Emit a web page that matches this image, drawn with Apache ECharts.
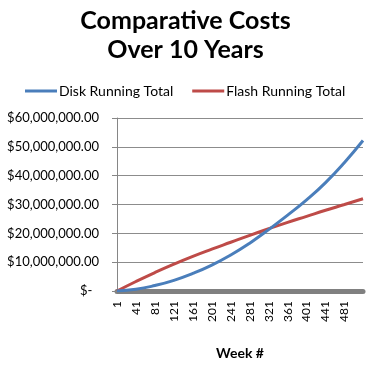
<!DOCTYPE html>
<html>
<head>
<meta charset="utf-8">
<script src="https://cdn.jsdelivr.net/npm/echarts@6/dist/echarts.min.js"></script>
<style>
  html, body { margin: 0; padding: 0; background: #fff; }
  #chart { width: 371px; height: 368px; }
</style>
</head>
<body>
<div id="chart"></div>
<script>
const weeks = [1, 41, 81, 121, 161, 201, 241, 281, 321, 361, 401, 441, 481, 520];
// running totals, in millions of dollars
const diskMillions = [0, 0.6, 1.9, 3.7, 6.1, 9.0, 12.5, 16.6, 21.3, 26.3, 31.6, 37.6, 44.6, 52.2];
const flashMillions = [0, 3.3, 6.4, 9.3, 12.0, 14.5, 16.9, 19.3, 21.6, 23.8, 25.9, 28.0, 30.0, 32.0];
const seriesNames = ["Disk Running Total", "Flash Running Total"];
const titleText = "Comparative Costs\nOver 10 Years";
const xAxisName = "Week #";

const font = "Lato, 'Open Sans', sans-serif";

function money(v) {
  if (v === 0) return "$-  ";
  return "$" + (v * 1e6).toLocaleString("en-US", { minimumFractionDigits: 2, maximumFractionDigits: 2 });
}

const option = {
  backgroundColor: "#fff",
  animation: false,
  title: {
    text: titleText,
    left: "center",
    top: 1,
    textStyle: {
      fontFamily: font,
      fontWeight: "bold",
      fontSize: 25,
      lineHeight: 29,
      color: "#000",
    },
  },
  legend: {
    top: 79,
    left: 20,
    itemWidth: 32,
    itemHeight: 3,
    itemGap: 19,
    icon: "rect",
    textStyle: { fontFamily: font, fontSize: 14, color: "#000", padding: [0, 0, 0, -3] },
    data: seriesNames,
  },
  grid: {
    left: 117,
    right: 8,
    top: 118,
    bottom: 77,
  },
  xAxis: {
    type: "value",
    min: 0,
    max: 519,
    interval: 40,
    name: xAxisName,
    nameLocation: "middle",
    nameGap: 55,
    nameTextStyle: { fontFamily: font, fontWeight: "bold", fontSize: 14, color: "#000" },
    splitLine: { show: false },
    axisLine: { show: true, lineStyle: { color: "#808080", width: 5 } },
    axisTick: { show: false },
    axisLabel: {
      rotate: 90,
      margin: 10,
      showMaxLabel: false,
      fontFamily: font,
      fontSize: 12,
      color: "#000",
      formatter: (v) => String(v + 1),
    },
  },
  yAxis: {
    type: "value",
    min: 0,
    max: 60,
    interval: 10,
    axisLine: { show: true, lineStyle: { color: "#868686", width: 1 } },
    axisTick: { show: true, length: 5, lineStyle: { color: "#868686" } },
    splitLine: { show: true, lineStyle: { color: "#8c8c8c", width: 1 } },
    axisLabel: {
      margin: 18,
      fontFamily: font,
      fontSize: 13,
      color: "#000",
      formatter: money,
    },
  },
  series: [
    {
      name: seriesNames[0],
      type: "line",
      smooth: 0.5,
      showSymbol: false,
      symbol: "none",
      color: "#4A7EBB",
      lineStyle: { width: 3, color: "#4A7EBB" },
      data: weeks.map((w, i) => [w - 1, diskMillions[i]]),
      z: 3,
    },
    {
      name: seriesNames[1],
      type: "line",
      smooth: 0.5,
      showSymbol: false,
      symbol: "none",
      color: "#BE4B48",
      lineStyle: { width: 3, color: "#BE4B48" },
      data: weeks.map((w, i) => [w - 1, flashMillions[i]]),
      z: 2,
    },
  ],
};

const chart = echarts.init(document.getElementById("chart"));
chart.setOption(option);
</script>
</body>
</html>
